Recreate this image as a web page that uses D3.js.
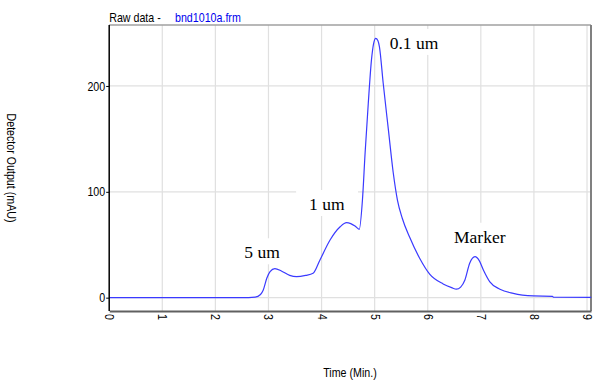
<!DOCTYPE html>
<html><head><meta charset="utf-8">
<script src="https://cdn.jsdelivr.net/npm/d3@7"></script>
<style>body{margin:0;background:#fff}svg{display:block}</style>
</head><body>
<script>
const timeMin = [0, 2.5, 2.75, 2.85, 2.9, 2.97, 3.03, 3.12, 3.25, 3.4, 3.53, 3.7, 3.84, 3.97, 4.16, 4.35, 4.47, 4.55, 4.63, 4.71, 4.77, 4.82, 4.88, 4.94, 4.98, 5.02, 5.06, 5.09, 5.16, 5.26, 5.35, 5.43, 5.52, 5.66, 5.85, 6.04, 6.29, 6.45, 6.54, 6.62, 6.70, 6.79, 6.89, 6.97, 7.05, 7.17, 7.36, 7.61, 7.99, 8.35, 8.37, 9.08];
const output = [0, 0, 0.5, 3, 7, 18.6, 24.6, 27.5, 25, 21, 19.8, 21, 23, 35.6, 54.5, 67, 70.9, 70, 67.7, 64.6, 92.3, 136.7, 183.7, 224.6, 240, 245, 243, 237, 203, 158, 118, 92, 75, 57, 37, 22, 13, 9.5, 8, 10, 16.7, 32.5, 38.7, 35, 26, 15, 8, 4, 1.6, 1.2, 0.4, 0.2];
const xTicks = [0,1,2,3,4,5,6,7,8,9];
const yTicks = [0,100,200];
const annLabels = ["5 um", "1 um", "0.1 um", "Marker"];
const annTime = [2.88, 4.10, 5.74, 6.98];
const annValue = [37.2, 82.8, 235, 51.9];

const W = 600, H = 383;
const L = 109.2, R = 591, T = 25, B = 311;
const x = d3.scaleLinear().domain([0, 9.075]).range([L, R]);
const y = d3.scaleLinear().domain([-12.6, 257.6]).range([B, T]);
const sans = "'Liberation Sans',Arial,sans-serif";
const serif = "'Liberation Serif','Times New Roman',serif";
function narrow(sel, k) {
  sel.each(function() {
    const w = this.getComputedTextLength();
    d3.select(this).attr("textLength", w * (k || 0.82)).attr("lengthAdjust", "spacingAndGlyphs");
  });
}

const svg = d3.select("body").append("svg").attr("width", W).attr("height", H);

// grid
const g = svg.append("g");
g.selectAll(".vg").data(xTicks.filter(d => d > 0)).join("line")
  .attr("x1", d => x(d)).attr("x2", d => x(d)).attr("y1", T).attr("y2", B)
  .attr("stroke", "#e0e0e0").attr("stroke-width", 1.2);
g.selectAll(".hg").data(yTicks).join("line")
  .attr("x1", L).attr("x2", R).attr("y1", d => y(d)).attr("y2", d => y(d))
  .attr("stroke", "#e0e0e0").attr("stroke-width", 1.2);

// annotations with white backgrounds hiding gridlines
const ann = svg.append("g");
const data = annLabels.map((t, i) => ({t, xv: annTime[i], yv: annValue[i]}));
const texts = ann.selectAll("text").data(data).join("text")
  .attr("x", d => x(d.xv)).attr("y", d => y(d.yv))
  .attr("text-anchor", "middle")
  .attr("font-family", serif).attr("font-size", 17.5).attr("fill", "#000")
  .text(d => d.t);
texts.each(function(d) {
  const bb = this.getBBox();
  ann.insert("rect", "text").attr("x", bb.x - 13).attr("y", bb.y - 4)
    .attr("width", bb.width + 26).attr("height", bb.height + 6).attr("fill", "#fff");
});

// borders
svg.append("line").attr("x1", L).attr("x2", R).attr("y1", T).attr("y2", T).attr("stroke", "#a0a0a0").attr("stroke-width", 1.5);
svg.append("line").attr("x1", R).attr("x2", R).attr("y1", T).attr("y2", B).attr("stroke", "#808080").attr("stroke-width", 2);

// curve
const pts = timeMin.map((t, i) => [t, output[i]]);
svg.append("path").datum(pts)
  .attr("d", d3.line().x(d => x(d[0])).y(d => y(d[1])).curve(d3.curveMonotoneX))
  .attr("fill", "none").attr("stroke", "#3a3aff").attr("stroke-width", 1.2);

// x axis
const xa = svg.append("g").attr("transform", `translate(0,${B})`)
  .call(d3.axisBottom(x).tickValues(xTicks).tickSize(0).tickFormat(d3.format("d")));
xa.select(".domain").attr("stroke", "#606060").attr("stroke-width", 2);
xa.selectAll("text").attr("font-family", sans).attr("font-size", 13).attr("fill", "#000")
  .attr("transform", "rotate(90)").attr("text-anchor", "start")
  .attr("x", 3).attr("y", 0).attr("dy", "0.35em").call(narrow);

// y axis
const ya = svg.append("g").attr("transform", `translate(${L},0)`)
  .call(d3.axisLeft(y).tickValues(yTicks).tickSize(3).tickPadding(1).tickFormat(d3.format("d")));
ya.select(".domain").attr("stroke", "#000").attr("stroke-width", 1.5).attr("d", `M0,${T}V${B}`);
ya.selectAll(".tick line").attr("stroke", "#000");
ya.selectAll("text").attr("font-family", sans).attr("font-size", 13).attr("fill", "#000").call(narrow);

// titles
svg.append("text").attr("x", L).attr("y", 22).attr("font-family", sans).attr("font-size", 13).attr("fill", "#000").text("Raw data -").call(narrow);
svg.append("text").attr("x", 175).attr("y", 22).attr("font-family", sans).attr("font-size", 13).attr("fill", "#0000ee").text("bnd1010a.frm").call(narrow);
svg.append("text").attr("x", 350).attr("y", 377).attr("text-anchor", "middle").attr("font-family", sans).attr("font-size", 13).attr("fill", "#000").text("Time (Min.)").call(narrow);
svg.append("text").attr("transform", "translate(7,168) rotate(90)").attr("text-anchor", "middle")
  .attr("font-family", sans).attr("font-size", 13).attr("fill", "#000").text("Detector Output (mAU)").call(narrow);
</script>
</body></html>
